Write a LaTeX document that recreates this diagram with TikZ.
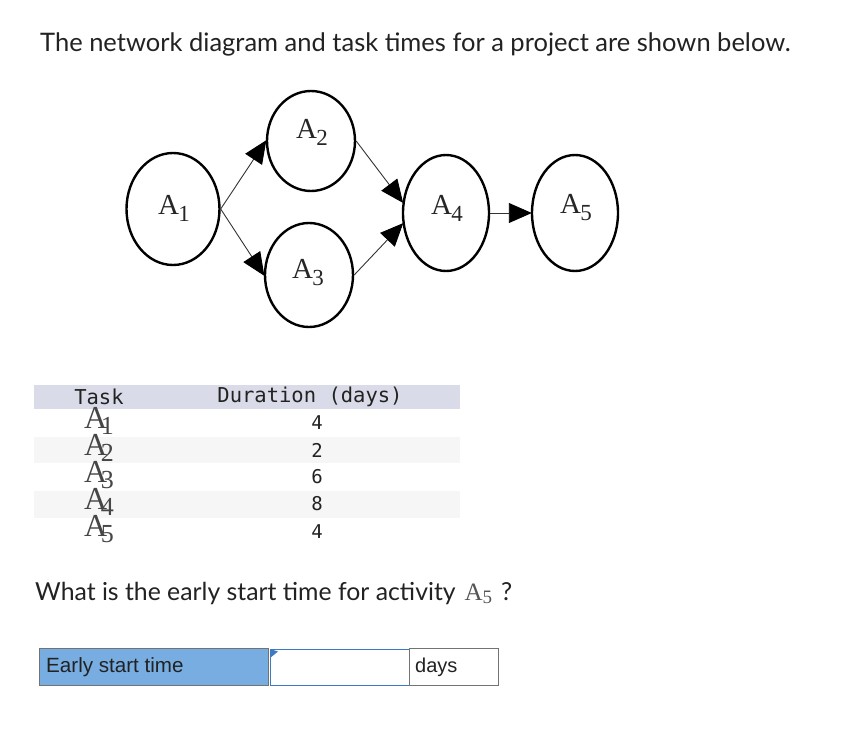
\documentclass[tikz,border=0pt]{standalone}
\usepackage{fontspec}
\setmainfont{Lato}
\newfontfamily\serifA{Liberation Serif}
\newfontfamily\monoF{DejaVu Sans Mono}
\newfontfamily\arialF{Liberation Sans}
\usetikzlibrary{arrows.meta,shapes.geometric}
\definecolor{hdr}{RGB}{217,220,232}
\definecolor{rowg}{RGB}{246,246,246}
\definecolor{cellblue}{RGB}{120,173,226}
\definecolor{inblue}{RGB}{61,122,194}
\definecolor{txt}{RGB}{34,34,34}
\newcommand\NodeLab[1]{{\serifA\fontsize{29}{29}\selectfont A\kern-0.5pt\raisebox{-7pt}{\fontsize{23}{23}\selectfont #1}}}
\newcommand\TabLab[1]{{\serifA\color[RGB]{70,70,70}\fontsize{32}{32}\selectfont A\kern-6.5pt\raisebox{-6pt}{\fontsize{26}{26}\selectfont #1}}}
\tikzset{
  act/.style={draw=black, line width=2.4pt, ellipse, inner sep=0pt, minimum width=88pt, minimum height=108pt},
  actlab/.style={inner sep=0pt, text=black!85},
  conn/.style={draw=black!80, line width=0.9pt, -{Triangle[length=23pt,width=20pt,color=black,fill=black]}, shorten >=-1pt},
  mono/.style={font=\monoF\fontsize{20.5}{20.5}\selectfont, text=txt, inner sep=0pt},
  val/.style={font=\monoF\fontsize{19}{19}\selectfont, text=txt, inner sep=0pt},
  cellbox/.style={draw=black!55, line width=0.9pt, inner sep=0pt, minimum height=37pt}
}
\begin{document}
\begin{tikzpicture}[x=1pt,y=-1pt]
\useasboundingbox (0,0) rectangle (860,736);
% title
\node[anchor=base west, inner sep=0pt, text=txt, font=\fontsize{25.5}{25.5}\selectfont] (title) at (40,51) {The network diagram and task times for a project are shown below.};
% network
\node[act, minimum width=93pt, minimum height=112pt] (A1) at (173,209) {};
\node[act, minimum height=100pt] (A2) at (311,141) {};
\node[act, minimum height=104pt] (A3) at (309,275) {};
\node[act, minimum width=86pt, minimum height=116pt] (A4) at (446,213) {};
\node[act, minimum width=86pt, minimum height=116pt] (A5) at (575,213) {};
\node[actlab] (A1t) at (174,208) {\NodeLab{1}};
\node[actlab] (A2t) at (312,132) {\NodeLab{2}};
\node[actlab] (A3t) at (308,273) {\NodeLab{3}};
\node[actlab] (A4t) at (447,208) {\NodeLab{4}};
\node[actlab] (A5t) at (576,208) {\NodeLab{5}};
\draw[conn] (A1.east) -- (A2.west);
\draw[conn] (A1.east) -- (A3.west);
\draw[conn] (A2.east) -- (A4.166);
\draw[conn] (A3.east) -- (A4.194);
\draw[conn] (A4.east) -- (A5.west);
% table
\fill[hdr] (34,385) rectangle (460,409);
\fill[rowg] (34,437) rectangle (460,463);
\fill[rowg] (34,491) rectangle (460,518);
\node[mono] (hTask) at (99,397) {Task};
\node[mono] (hDur) at (310,397) {Duration (days)};
\node[inner sep=0pt] (t1) at (99,421) {\TabLab{1}};
\node[inner sep=0pt] (t2) at (99,448) {\TabLab{2}};
\node[inner sep=0pt] (t3) at (99,475) {\TabLab{3}};
\node[inner sep=0pt] (t4) at (99,502) {\TabLab{4}};
\node[inner sep=0pt] (t5) at (99,529) {\TabLab{5}};
\node[val] (d1) at (317,423) {4};
\node[val] (d2) at (317,450) {2};
\node[val] (d3) at (317,477) {6};
\node[val] (d4) at (317,504) {8};
\node[val] (d5) at (317,532) {4};
% question
\node[anchor=base west, inner sep=0pt, text=txt, font=\fontsize{24.8}{24.8}\selectfont] (q) at (35,600) {What is the early start time for activity\hspace{9pt}{\serifA\color[RGB]{85,85,85}\fontsize{25}{25}\selectfont A\raisebox{-3pt}{\fontsize{19}{19}\selectfont 5}}\hspace{9pt}?};
% answer widget
\node[cellbox, fill=cellblue, minimum width=229pt, anchor=north west] (lab) at (39,648) {};
\node[anchor=west, inner sep=0pt, font=\arialF\fontsize{20.6}{20.6}\selectfont, text=txt] (labt) at (46,667) {Early start time};
\node[draw=inblue, line width=1.8pt, minimum width=139pt, minimum height=36pt, inner sep=0pt, anchor=north west] (inp) at (269.5,648.5) {};
\fill[inblue] (270,649) -- (278,651.5) -- (270,658) -- cycle;
\node[cellbox, minimum width=89pt, anchor=north west] (unit) at (409,648) {};
\node[anchor=west, inner sep=0pt, font=\arialF\fontsize{20}{20}\selectfont, text=txt] (unitt) at (415,667) {days};
\end{tikzpicture}
\end{document}
